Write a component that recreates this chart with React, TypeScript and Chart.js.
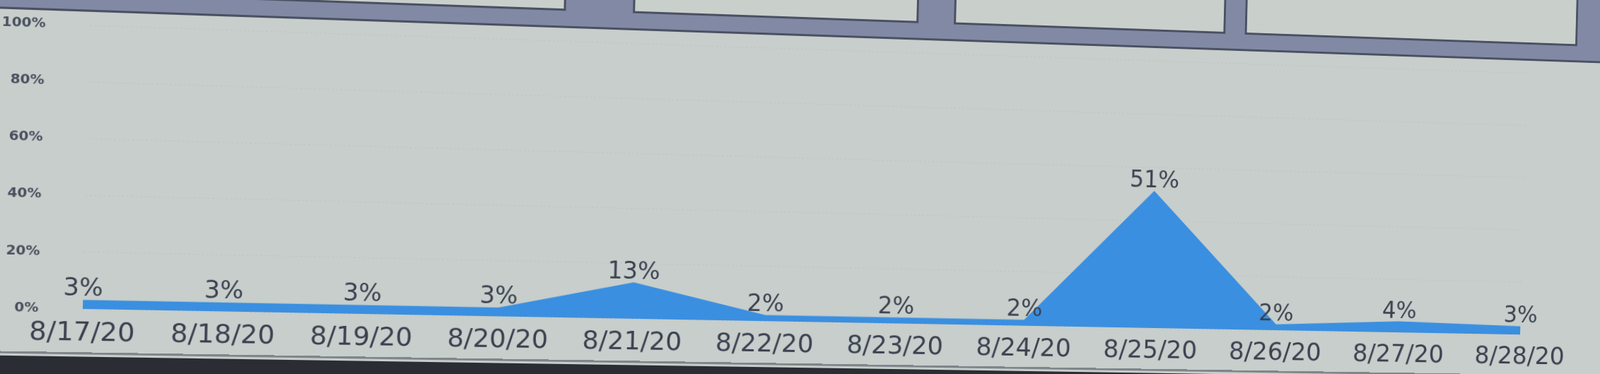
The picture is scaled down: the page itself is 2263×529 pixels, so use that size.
import React, { useEffect, useRef } from "react";
import { Chart, registerables, Plugin } from "chart.js";

Chart.register(...registerables);

// data
const DATES = [
  "8/17/20", "8/18/20", "8/19/20", "8/20/20", "8/21/20", "8/22/20",
  "8/23/20", "8/24/20", "8/25/20", "8/26/20", "8/27/20", "8/28/20",
];
const SHARE = [3, 3, 3, 3, 13, 2, 2, 2, 51, 2, 4, 3];
const Y_TICKS = [0, 20, 40, 60, 80, 100];

const BG = "#c7cecb";
const SLATE = "#8189a5";
const EDGE = "#4b5062";
const BLUE = "#3b8fe0";
const TEXT = "#3c4150";
const FONT = '"DejaVu Sans", sans-serif';

// the reference is a photo of a monitor: tilted and seen a bit from the left
const OFF = 100;
const PHOTO_TRANSFORM = "rotate(1.46deg) perspective(2500px) rotateY(5.7deg)";

const valueLabels: Plugin<"line"> = {
  id: "valueLabels",
  afterDatasetsDraw(chart) {
    const { ctx } = chart;
    const meta = chart.getDatasetMeta(0);
    ctx.save();
    ctx.font = `33px ${FONT}`;
    ctx.fillStyle = TEXT;
    ctx.textAlign = "center";
    ctx.textBaseline = "alphabetic";
    meta.data.forEach((pt, i) => {
      ctx.fillText(`${SHARE[i]}%`, pt.x, pt.y - 6);
    });
    ctx.restore();
  },
};

const ShareChart = () => {
  const canvasRef = useRef<HTMLCanvasElement | null>(null);

  useEffect(() => {
    const ctx = canvasRef.current?.getContext("2d");
    if (!ctx) return;

    const chart = new Chart(ctx, {
      type: "line",
      data: {
        labels: DATES,
        datasets: [
          {
            data: SHARE,
            fill: "origin",
            backgroundColor: BLUE,
            borderColor: BLUE,
            borderWidth: 1.5,
            pointRadius: 0,
            tension: 0,
          },
        ],
      },
      options: {
        animation: false,
        responsive: true,
        maintainAspectRatio: false,
        layout: { padding: { left: 0, right: 96, top: 66, bottom: 0 } },
        plugins: { legend: { display: false }, tooltip: { enabled: false } },
        scales: {
          x: {
            offset: false,
            grid: { display: false, drawTicks: false },
            border: { display: false },
            ticks: {
              font: { family: FONT, size: 36 },
              color: TEXT,
              padding: 12,
              maxRotation: 0,
              autoSkip: false,
            },
            afterFit: (s) => {
              s.height = 74;
            },
          },
          y: {
            min: 0,
            max: 100,
            afterBuildTicks: (s) => {
              s.ticks = Y_TICKS.map((v) => ({ value: v }));
            },
            grid: {
              color: "rgba(90,100,110,0.11)",
              drawTicks: false,
              lineWidth: 1,
            },
            border: { display: false, dash: [2, 4] },
            ticks: {
              font: { family: FONT, size: 18.5, weight: "bold" },
              color: "#4a4f5e",
              padding: 58,
              callback: (v) => `${v}%`,
            },
            afterFit: (s) => {
              s.width = 156;
            },
          },
        },
      },
      plugins: [valueLabels],
    });

    return () => {
      chart.destroy();
    };
  }, []);

  return <canvas ref={canvasRef}></canvas>;
};

const tiles = [
  { left: -OFF, right: 797 },
  { left: 890, right: 1295 },
  { left: 1346, right: 1745 },
  { left: 1774, right: 2281 },
];

export default function App() {
  return (
    <div
      style={{
        position: "fixed",
        inset: 0,
        overflow: "hidden",
        background: BG,
      }}
    >
      <div
        style={{
          position: "absolute",
          left: -OFF,
          top: -OFF,
          width: 2263 + 2 * OFF + 150,
          height: 529 + 2 * OFF,
          background: BG,
          transformOrigin: `${1131 + OFF}px ${264 + OFF}px`,
          transform: PHOTO_TRANSFORM,
        }}
      >
        {/* report frame above the chart */}
        <div
          style={{
            position: "absolute",
            left: 0,
            top: 0,
            right: 0,
            height: OFF + 48,
            background: SLATE,
            borderBottom: `3px solid ${EDGE}`,
          }}
        />
        {tiles.map((t, i) => (
          <div
            key={i}
            style={{
              position: "absolute",
              left: OFF + t.left,
              top: 0,
              width: t.right - t.left,
              height: OFF + 27,
              background: "#c9d0cc",
              border: `3px solid ${EDGE}`,
              boxSizing: "border-box",
              borderTop: "none",
            }}
          />
        ))}
        <div
          style={{
            position: "absolute",
            left: OFF,
            top: OFF,
            width: 2300,
            height: 529,
          }}
        >
          <ShareChart />
        </div>
        {/* bezel below */}
        <div
          style={{
            position: "absolute",
            left: 0,
            right: 0,
            top: OFF + 514,
            height: 3,
            background: "#80858b",
          }}
        />
        <div
          style={{
            position: "absolute",
            left: 0,
            right: 0,
            top: OFF + 520,
            bottom: 0,
            background: "#2a2d33",
          }}
        />
      </div>
    </div>
  );
}
